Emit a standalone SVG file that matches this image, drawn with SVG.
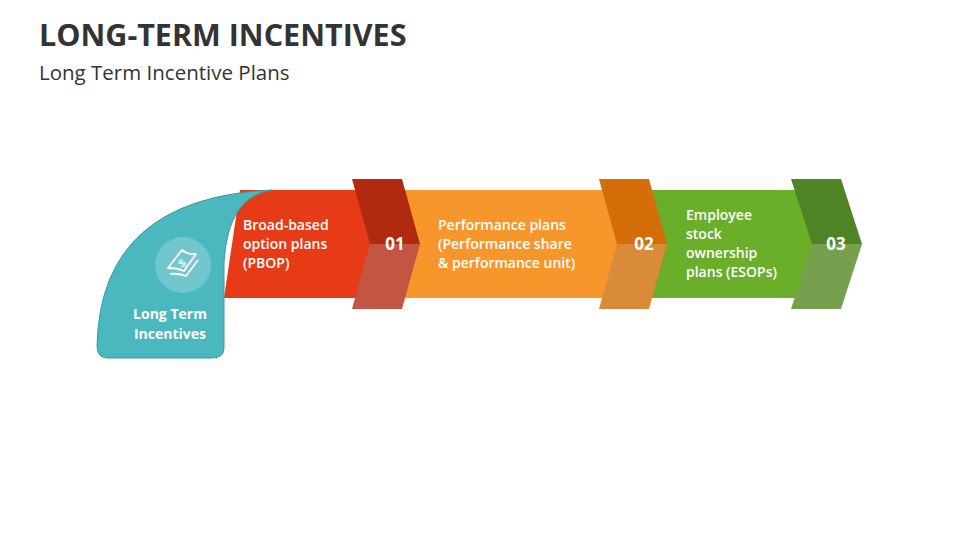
<svg xmlns="http://www.w3.org/2000/svg" width="960" height="540" viewBox="0 0 960 540">
<style>
.t{font-family:"Open Sans","Liberation Sans",sans-serif;fill:#fff;font-size:14px;font-weight:600}
.b{font-weight:bold}
.n{font-family:"Open Sans","Liberation Sans",sans-serif;fill:#fff;font-size:17px;font-weight:bold}
</style>
<rect width="960" height="540" fill="#fff"/>
<text x="39" y="46" font-family="'Open Sans','Liberation Sans',sans-serif" font-size="30.5" font-weight="bold" fill="#333">LONG-TERM INCENTIVES</text>
<text x="39" y="80" font-family="'Open Sans','Liberation Sans',sans-serif" font-size="20.5" fill="#333">Long Term Incentive Plans</text>
<g id="band-red"><path d="M240,190 H357 L385,244 L357,298 H224 Z" fill="#E63B16"/></g>
<g id="band-orange"><path d="M395,190 H605 L633,244 L605,298 H395 Z" fill="#F7962A"/></g>
<g id="band-green"><path d="M645,190 H800 L828,244 L800,298 H645 Z" fill="#6AAE2A"/></g>
<g id="teal">
<path d="M272,190 Q228,196 224,262 V348 Q224,358 212,358 H108 Q97,358 97,346 Q100,198 272,190 Z" fill="#4BB7BF" stroke="#3A9AA0" stroke-width="1"/>
<circle cx="183" cy="265" r="28" fill="#fff" fill-opacity="0.22"/>
<g fill="none" stroke="#fff" stroke-width="1.8" stroke-linejoin="round">
<path d="M168,268 L182,250 Q188,255 196,254 L184,271 Q178,268 168,268 Z"/>
<path d="M170,274 Q178,273 186,276 L198,260"/>
<text x="182" y="267" font-family="'Liberation Sans',sans-serif" font-size="11" fill="#fff" stroke="none" text-anchor="middle" transform="rotate(-35 182 263)">$</text>
</g>
<text class="t b" x="170" y="319" text-anchor="middle">Long Term</text>
<text class="t b" x="170" y="339" text-anchor="middle">Incentives</text>
</g>
<g id="chev1">
<path d="M352,179 H402 L420,244 H370 Z" fill="#B02A10"/>
<path d="M370,244 H420 L402,309 H352 Z" fill="#C25642"/>
<text class="n" x="395" y="250" text-anchor="middle">01</text>
</g>
<g id="chev2">
<path d="M599,179 H649 L667,244 H617 Z" fill="#D36E09"/>
<path d="M617,244 H667 L649,309 H599 Z" fill="#D98B3A"/>
<text class="n" x="644" y="250" text-anchor="middle">02</text>
</g>
<g id="chev3">
<path d="M791,179 H841 L862,244 H812 Z" fill="#4E8424"/>
<path d="M812,244 H862 L841,309 H791 Z" fill="#76A04E"/>
<text class="n" x="836" y="250" text-anchor="middle">03</text>
</g>
<g id="labels">
<text class="t" x="243" y="230">Broad-based</text>
<text class="t" x="243" y="249">option plans</text>
<text class="t" x="243" y="268">(PBOP)</text>
<text class="t" x="438" y="230">Performance plans</text>
<text class="t" x="438" y="249">(Performance share</text>
<text class="t" x="438" y="268">&amp; performance unit)</text>
<text class="t" x="686" y="220">Employee</text>
<text class="t" x="686" y="239">stock</text>
<text class="t" x="686" y="258">ownership</text>
<text class="t" x="686" y="277">plans (ESOPs)</text>
</g>
</svg>
